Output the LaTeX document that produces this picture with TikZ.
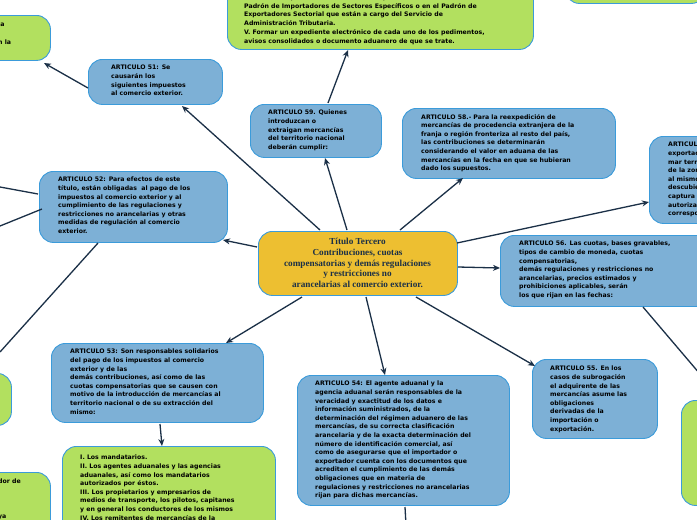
\documentclass[tikz,border=0pt]{standalone}
\usepackage{fontspec}
\setmainfont{DejaVu Sans}
\newfontfamily\titlefont{Liberation Serif}
\usetikzlibrary{arrows.meta}
\definecolor{bfill}{HTML}{7DB0D6}
\definecolor{bline}{HTML}{3B9BDA}
\definecolor{gfill}{HTML}{B2E05F}
\definecolor{yfill}{HTML}{EDBF31}
\definecolor{ink}{HTML}{1B3047}
\tikzset{
  base/.style={draw=bline, line width=0.9pt, rounded corners=14pt, anchor=north west, inner xsep=0pt, inner ysep=0pt},
  bbox/.style={base, fill=bfill},
  gbox/.style={base, fill=gfill},
  txt/.style={anchor=north west, align=left, inner sep=0pt, font=\bfseries\fontsize{6.2}{8.6}\selectfont},
  conn/.style={draw=ink, line width=1.3pt, -{Stealth[length=7pt,width=6pt]}},
  plain/.style={draw=ink, line width=1.3pt}
}
\begin{document}
\begin{tikzpicture}[x=1pt,y=-1pt]
\useasboundingbox (0,0) rectangle (697,520);
\fill[white] (0,0) rectangle (697,520);
\begin{scope}
\clip (0,0) rectangle (697,520);
\node[gbox, minimum width=306, minimum height=70] (top) at (227,-21) {};
\node[txt, font=\bfseries\fontsize{6.2}{8.9}\selectfont] (toptxt) at (244,-6) {Padrón de Importadores de Sectores Específicos o en el Padrón de\\Padrón de Importadores de Sectores Específicos o en el Padrón de\\Exportadores Sectorial que están a cargo del Servicio de\\Administración Tributaria.\\V. Formar un expediente electrónico de cada uno de los pedimentos,\\avisos consolidados o documento aduanero de que se trate.};
\node[gbox, minimum width=140, minimum height=40] (topr) at (565,-37) {};
\node[gbox, minimum width=80, minimum height=45] (lg1) at (-30,15) {};
\node[txt] (lg1t) at (-2,22) {la\\[8.6pt]n la};
\node[bbox, minimum width=134, minimum height=45] (a51) at (88,59) {};
\node[txt] (a51t) at (111,65) {ARTICULO 51: Se\\causarán los\\siguientes impuestos\\al comercio exterior.};
\node[bbox, minimum width=131, minimum height=53] (a59) at (250,104) {};
\node[txt] (a59t) at (268,110) {ARTICULO 59. Quienes\\introduzcan o\\extraigan mercancías\\del territorio nacional\\deberán cumplir:};
\node[bbox, minimum width=213, minimum height=70] (a58) at (402,108) {};
\node[txt] (a58t) at (421,114) {ARTICULO 58.- Para la reexpedición de\\mercancías de procedencia extranjera de la\\franja o región fronteriza al resto del país,\\las contribuciones se determinarán\\considerando el valor en aduana de las\\mercancías en la fecha en que se hubieran\\dado los supuestos.};
\node[bbox, minimum width=80, minimum height=87] (a57) at (649,136) {};
\node[txt] (a57t) at (668,142) {ARTICULO\\exportación\\mar territorial\\ de la zona\\al mismo\\descubierto\\captura\\autorización\\correspondiente};
\node[bbox, minimum width=188, minimum height=71] (a52) at (39,171) {};
\node[txt] (a52t) at (58,177) {ARTICULO 52: Para efectos de este\\título, están obligadas\ \ al pago de los\\impuestos al comercio exterior y al\\cumplimiento de las regulaciones y\\restricciones no arancelarias y otras\\medidas de regulación al comercio\\exterior.};
\node[draw=bline, line width=0.9pt, rounded corners=14pt, fill=yfill, minimum width=199, minimum height=64, anchor=north west] (ctr) at (258,231) {};
\node[align=center, inner sep=0pt, font=\titlefont\bfseries\fontsize{9.2}{10.7}\selectfont, text=ink] (ctrt) at (357.5,263) {Título Tercero\\Contribuciones, cuotas\\compensatorias y demás regulaciones\\y restricciones no\\arancelarias al comercio exterior.};
\node[bbox, minimum width=210, minimum height=71] (a56) at (500,235) {};
\node[txt] (a56t) at (519,241) {ARTICULO 56. Las cuotas, bases gravables,\\tipos de cambio de moneda, cuotas\\compensatorias,\\ demás regulaciones y restricciones no\\arancelarias, precios estimados y\\prohibiciones aplicables, serán\\los que rijan en las fechas:};
\node[bbox, minimum width=212, minimum height=79] (a53) at (51,343) {};
\node[txt] (a53t) at (70,349) {ARTICULO 53: Son responsables solidarios\\del pago de los impuestos al comercio\\exterior y de las\\ demás contribuciones, así como de las\\cuotas compensatorias que se causen con\\motivo de la introducción de mercancías al\\territorio nacional o de su extracción del\\mismo:};
\node[bbox, minimum width=212, minimum height=130] (a54) at (297,375) {};
\node[txt] (a54t) at (315,381) {ARTICULO 54: El agente aduanal y la\\agencia aduanal serán responsables de la\\veracidad y exactitud de los datos e\\información suministrados, de la\\determinación del régimen aduanero de las\\mercancías, de su correcta clasificación\\arancelaria y de la exacta determinación del\\número de identificación comercial, así\\como de asegurarse que el importador o\\exportador cuenta con los documentos que\\acrediten el cumplimiento de las demás\\obligaciones que en materia de\\regulaciones y restricciones no arancelarias\\rijan para dichas mercancías.};
\node[bbox, minimum width=125, minimum height=79] (a55) at (532,359) {};
\node[txt] (a55t) at (550,366) {ARTICULO 55. En los\\casos de subrogación\\el adquirente de las\\mercancías asume las\\obligaciones\\derivadas de la\\importación o\\exportación.};
\node[gbox, minimum width=213, minimum height=100] (g53) at (62,446) {};
\node[txt] (g53t) at (80,455) {I. Los mandatarios.\\II. Los agentes aduanales y las agencias\\aduanales, así como los mandatarios\\autorizados por éstos.\\III. Los propietarios y empresarios de\\medios de transporte, los pilotos, capitanes\\y en general los conductores de los mismos\\IV. Los remitentes de mercancías de la};
\node[gbox, minimum width=60, minimum height=52] (lg2) at (-49,373) {};
\node[gbox, minimum width=100, minimum height=70] (lg3) at (-50,472) {};
\node[txt] (lg3t) at (-2,479) {dor de\\[25.8pt]ya};
\node[gbox, minimum width=60, minimum height=105] (rg) at (681,400) {};
\coordinate (e1) at (0,187);
\coordinate (e2) at (0,226);
\coordinate (e3) at (0,352);
\coordinate (e4) at (406,525);
\coordinate (e5) at (700,374);
\coordinate (c1) at (320,230);
\coordinate (c2) at (347,230);
\coordinate (c3) at (400,230);
\coordinate (c4) at (457,243);
\coordinate (c5) at (458,267);
\coordinate (c6) at (416,297);
\coordinate (c7) at (366,297);
\coordinate (c8) at (302,297);
\coordinate (c9) at (257,247);
\draw[conn] (c1) -- (182,106);
\draw[conn] (c2) -- (325,158);
\draw[conn] (328,103) -- (348,50);
\draw[conn] (c3) -- (463,178);
\draw[conn] (c4) -- (649,202);
\draw[conn] (c5) -- (500,268);
\draw[conn] (c6) -- (535,366);
\draw[conn] (c7) -- (385,375);
\draw[conn] (c8) -- (226,343);
\draw[conn] (c9) -- (223,240);
\draw[conn] (88,88) -- (44,63);
\draw[conn] (160,424) -- (162,446);
\draw[plain] (38,194) -- (e1);
\draw[plain] (42,209) -- (e2);
\draw[plain] (98,243) -- (e3);
\draw[plain] (405,507) -- (e4);
\draw[plain] (643,307) -- (e5);
\end{scope}
\end{tikzpicture}
\end{document}
